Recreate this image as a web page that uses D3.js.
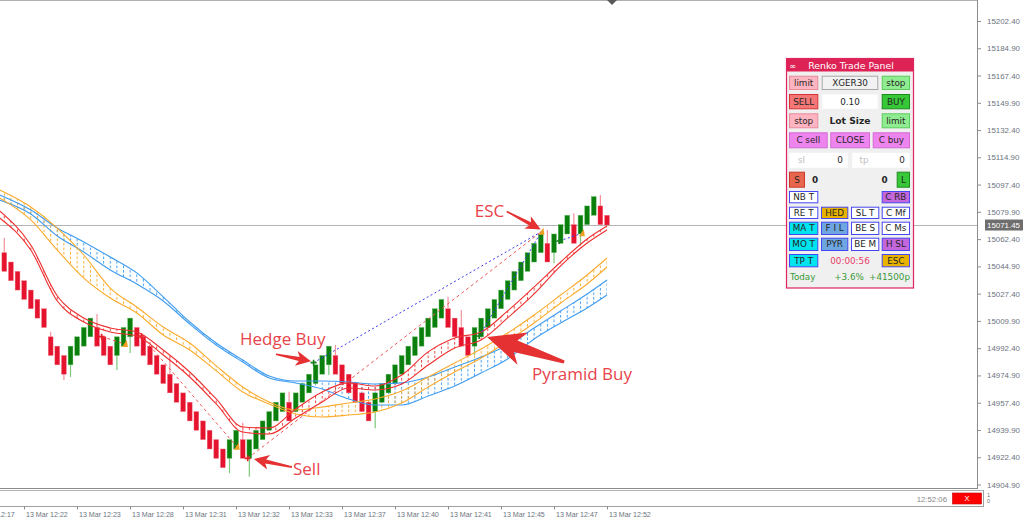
<!DOCTYPE html>
<html><head><meta charset="utf-8">
<script src="https://cdn.jsdelivr.net/npm/d3@7"></script>
<style>
html,body{margin:0;padding:0;background:#fff;overflow:hidden;}
svg{display:block;}
</style></head><body>
<svg id="chart" width="1024" height="523"></svg>
<script>
// ---------------- DATA ----------------
const tickBars = [-5, 3, 11, 19, 27, 35, 43, 51, 59, 67, 75, 83, 91];
const tickLabels = ["13 Mar 12:17","13 Mar 12:22","13 Mar 12:23","13 Mar 12:28","13 Mar 12:31","13 Mar 12:32","13 Mar 12:33","13 Mar 12:37","13 Mar 12:40","13 Mar 12:41","13 Mar 12:45","13 Mar 12:47","13 Mar 12:52"];
const priceTicks = [15202.40,15184.90,15167.40,15149.90,15132.40,15114.90,15097.40,15079.90,15062.40,15044.90,15027.40,15009.90,14992.40,14974.90,14957.40,14939.90,14922.40,14904.90];
const lastPrice = 15071.45;

const brickOpen = [15053.7,15047.7,15041.7,15035.7,15029.7,15023.7,15017.7,14999.7,14993.7,14987.7,
 14981.7,14987.7,14993.7,14999.7,15005.7,14999.7,14993.7,14987.7,14993.7,14999.7,
 15005.7,14999.7,14993.7,14987.7,14981.7,14975.7,14969.7,14963.7,14957.7,14951.7,
 14945.7,14939.7,14933.7,14927.7,14921.7,14927.7,14933.7,14921.7,14927.7,14933.7,
 14939.7,14945.7,14951.7,14957.7,14951.7,14957.7,14963.7,14969.7,14975.7,14981.7,
 14987.7,14981.7,14975.7,14969.7,14963.7,14957.7,14951.7,14957.7,14963.7,14969.7,
 14975.7,14981.7,14987.7,14993.7,14999.7,15005.7,15011.7,15017.7,15011.7,15005.7,
 14999.7,14993.7,14999.7,15005.7,15011.7,15017.7,15023.7,15029.7,15035.7,15041.7,
 15047.7,15053.7,15059.7,15053.7,15059.7,15065.7,15071.7,15065.7,15071.7,15077.7,
 15083.7,15077.7];
const brickClose = [15041.7,15035.7,15029.7,15023.7,15017.7,15011.7,15005.7,14987.7,14981.7,14975.7,
 14993.7,14999.7,15005.7,15011.7,14993.7,14987.7,14981.7,14999.7,15005.7,15011.7,
 14993.7,14987.7,14981.7,14975.7,14969.7,14963.7,14957.7,14951.7,14945.7,14939.7,
 14933.7,14927.7,14921.7,14915.7,14933.7,14939.7,14921.7,14933.7,14939.7,14945.7,
 14951.7,14957.7,14963.7,14945.7,14963.7,14969.7,14975.7,14981.7,14987.7,14993.7,
 14975.7,14969.7,14963.7,14957.7,14951.7,14945.7,14963.7,14969.7,14975.7,14981.7,
 14987.7,14993.7,14999.7,15005.7,15011.7,15017.7,15023.7,15005.7,14999.7,14993.7,
 14987.7,15005.7,15011.7,15017.7,15023.7,15029.7,15035.7,15041.7,15047.7,15053.7,
 15059.7,15065.7,15047.7,15065.7,15071.7,15077.7,15059.7,15077.7,15083.7,15089.7,
 15071.7,15071.45];
const wickBar   = [0, 7, 9, 10, 14, 17, 19, 25, 34, 36, 37, 43, 49, 50, 56, 67, 69, 71, 82, 83, 86, 87, 90];
const wickPrice = [15063.1,15003.0,14972.0,14973.9,15014.3,14978.4,14989.3,14986.9,14912.1,14944.6,14909.9,14964.5,14975.2,14994.4,14941.0,15025.4,15016.9,14988.0,15068.3,15046.9,15079.0,15058.6,15090.7];

// moving-average ribbons, sampled at these bar positions
const maIdx = [-0.7,4,8,12,16,20,24,28,32,36,40,44,48,52,56,60,64,68,72,76,80,84,88,91];
const blueA = [15090.7,15081.1,15069.5,15060.6,15050.9,15040.7,15025.3,15009.2,14995.7,14984.8,14974.5,14971.3,14971.3,14970.7,14969.4,14970.1,14973.9,14980.3,14986.7,14994.4,15005.4,15016.3,15027.2,15036.2];
const blueB = [15087.5,15078.5,15064.4,15054.1,15042.6,15033.6,15022.7,15007.9,14994.4,14983.5,14973.3,14970.1,14966.2,14959.8,14955.9,14955.9,14961.7,14968.1,14976.5,14985.5,14998.3,15008.6,15018.2,15026.5];
const orangeA = [15093.9,15083.0,15069.5,15052.2,15031.0,15018.8,15006.0,14995.7,14981.0,14967.5,14957.9,14952.7,14954.6,14957.2,14959.8,14964.9,14973.9,14982.9,14991.9,15002.1,15013.7,15026.5,15039.4,15050.3];
const orangeB = [15088.8,15074.7,15055.4,15037.4,15024.6,15015.0,15000.9,14991.2,14977.8,14964.3,14956.6,14950.2,14948.2,14949.5,14951.4,14957.2,14967.5,14977.1,14986.1,14997.0,15008.6,15021.4,15033.6,15044.5];
const redA = [15080.5,15058.6,15025.9,15011.8,15005.4,15002.8,14991.2,14977.1,14959.8,14941.8,14941.2,14953.4,14964.3,14970.1,14968.1,14975.2,14990.0,14998.9,15002.8,15016.3,15031.7,15047.7,15062.5,15070.8];
const redB = [15076.0,15055.4,15022.7,15009.2,15002.8,15000.2,14988.0,14973.9,14956.6,14938.6,14937.3,14947.6,14957.9,14966.8,14965.6,14969.4,14981.6,14992.5,14997.7,15011.8,15027.2,15045.2,15059.9,15068.3];

// trade markers
const markerBar   = [36.75, 35.1, 46.7, 71.7, 81.1, 83.8, 87.2, 14.7, 20.7, 18.2];
const markerPrice = [14921.7,14929.2,14983.1,15000.2,15067.2,15061.2,15066.1,14999.8,15000.2,14995.1];
const markerKind  = ["sell","close","buy","buy","close","buy","close","sell","sell","close"];
// trade lines
const tradeFromBar   = [36.75, 46.7, 71.7, 83.8, 20.7, 14.7];
const tradeFromPrice = [14921.7, 14983.1, 15000.2, 15061.2, 15000.2, 14999.8];
const tradeToBar     = [81.1, 81.1, 81.1, 87.2, 35.1, 18.2];
const tradeToPrice   = [15067.2, 15067.2, 15067.2, 15066.1, 14929.2, 14995.1];
const tradeSide      = ["sell","buy","buy","buy","sell","sell"];

// annotations (tip anchored on data)
const noteText  = ["ESC","Hedge Buy","Sell","Pyramid Buy"];
const noteBar   = [81, 46.3, 37.7, 72.9];
const notePrice = [15068.6, 14984.0, 14921.2, 14999.6];

// ---------------- SCALES ----------------
const svg = d3.select("#chart");
const W = 1024, H = 523, plotR = 977, plotB = 488;
const x = d3.scaleLinear().domain([0, 91]).range([4.3, 607]);
const y = d3.scaleLinear().domain([14904.9, 15202.4]).range([484.5, 21]);
const bw = x(1) - x(0);

const defs = svg.append("defs");
defs.append("clipPath").attr("id","plotClip").append("rect").attr("x",0).attr("y",0).attr("width",plotR).attr("height",plotB);
function hatch(id, color){
  const p = defs.append("pattern").attr("id",id).attr("patternUnits","userSpaceOnUse")
    .attr("x", x(0)-0.5).attr("y",0).attr("width", bw).attr("height", 4.5);
  p.append("rect").attr("x",0).attr("y",0).attr("width",1).attr("height",2.6).attr("fill",color);
}
hatch("hBlue","#3f9cf0"); hatch("hOrange","#fbab2e"); hatch("hRed","#ee3b3b");

svg.append("rect").attr("x",0).attr("y",0).attr("width",W).attr("height",H).attr("fill","#fff");
const plot = svg.append("g").attr("clip-path","url(#plotClip)");

// ---------------- RIBBONS (hatch) ----------------
const ribbons = [
  {a: blueA, b: blueB, color: "#3f9cf0", pat: "hBlue"},
  {a: orangeA, b: orangeB, color: "#fbab2e", pat: "hOrange"},
  {a: redA, b: redB, color: "#ee2e2e", pat: "hRed"}
];
const curve = d3.curveMonotoneX;
ribbons.forEach(r => {
  const rows = maIdx.map((i,k) => ({i, a: r.a[k], b: r.b[k]}));
  plot.append("path").datum(rows)
    .attr("d", d3.area().x(d=>x(d.i)).y0(d=>y(d.a)).y1(d=>y(d.b)).curve(curve))
    .attr("fill", `url(#${r.pat})`).attr("opacity",0.95);
});

// current price line
plot.append("line").attr("x1",0).attr("x2",plotR).attr("y1",Math.round(y(lastPrice))+0.5).attr("y2",Math.round(y(lastPrice))+0.5)
  .attr("stroke","#b4b4b4").attr("stroke-width",1);

// ---------------- BRICKS ----------------
const bricks = brickOpen.map((o,i)=>({i, o, c: brickClose[i]}));
const wicks = wickBar.map((b,k)=>({i:b, p: wickPrice[k], up: brickClose[b] < brickOpen[b]}));
plot.append("g").selectAll("line").data(wicks).join("line")
  .attr("x1",d=>x(d.i)).attr("x2",d=>x(d.i))
  .attr("y1",d=>y(d.p))
  .attr("y2",d=>{const hi=Math.max(brickOpen[d.i],brickClose[d.i]), lo=Math.min(brickOpen[d.i],brickClose[d.i]); return d.p>hi? y(hi): y(lo);})
  .attr("stroke",d=> d.up ? "#f4909c" : "#7cc87c").attr("stroke-width",1.2);
plot.append("g").selectAll("rect").data(bricks).join("rect")
  .attr("x",d=>x(d.i)-2.4).attr("width",4.8)
  .attr("y",d=>y(Math.max(d.o,d.c)))
  .attr("height",d=>Math.abs(y(d.o)-y(d.c)))
  .attr("fill",d=> d.c < d.o ? "#e5132e" : "#0b7f0e")
  .attr("stroke",d=> d.c < d.o ? "#f07080" : "#5cb85c").attr("stroke-width",0.4);

// ribbon lines on top
ribbons.forEach(r => {
  [r.a, r.b].forEach(arr => {
    plot.append("path").datum(maIdx.map((i,k)=>({i, v: arr[k]})))
      .attr("d", d3.line().x(d=>x(d.i)).y(d=>y(d.v)).curve(curve))
      .attr("fill","none").attr("stroke", r.color).attr("stroke-width",1.1);
  });
});

// ---------------- TRADES ----------------
tradeFromBar.forEach((fb,k)=>{
  plot.append("line")
    .attr("x1",x(fb)).attr("y1",y(tradeFromPrice[k]))
    .attr("x2",x(tradeToBar[k])).attr("y2",y(tradeToPrice[k]))
    .attr("stroke", tradeSide[k]==="buy" ? "#3a3af0" : "#f25454")
    .attr("stroke-width",1)
    .attr("stroke-dasharray", tradeSide[k]==="buy" ? "2,2.5" : "3,3");
});
markerBar.forEach((mb,k)=>{
  const cx = x(mb), cy = y(markerPrice[k]), kind = markerKind[k];
  if (kind === "close") {
    plot.append("path").attr("d",`M${cx-3},${cy+3}L${cx+3},${cy+3}L${cx+2},${cy-4}Z`).attr("fill","#f0a020");
  } else {
    const col = kind==="buy" ? "#16801a" : "#e8202a";
    plot.append("path").attr("d",`M${cx-3},${cy}H${cx+3}M${cx},${cy-3}V${cy+3}`).attr("stroke",col).attr("stroke-width",1.6);
  }
});

// ---------------- ANNOTATIONS ----------------
function arrowPath(tail, tip, headLen, headHalf, neckHalf, tailHalf){
  const dx=tip[0]-tail[0], dy=tip[1]-tail[1], L=Math.hypot(dx,dy);
  const ux=dx/L, uy=dy/L, nx=-uy, ny=ux;
  const bx=tip[0]-ux*headLen, by=tip[1]-uy*headLen;
  const wx=bx-ux*headLen*0.25, wy=by-uy*headLen*0.25;
  const pts=[[tail[0]+nx*tailHalf,tail[1]+ny*tailHalf],[bx+nx*neckHalf,by+ny*neckHalf],[wx+nx*headHalf,wy+ny*headHalf],tip,
    [wx-nx*headHalf,wy-ny*headHalf],[bx-nx*neckHalf,by-ny*neckHalf],[tail[0]-nx*tailHalf,tail[1]-ny*tailHalf]];
  return "M"+pts.map(p=>p[0].toFixed(1)+","+p[1].toFixed(1)).join("L")+"Z";
}
const noteStyle = [
  {tail:[-34,-18], text:[-66,-12], head:[12,7,1.8,0.8]},
  {tail:[-35,-7],  text:[-71,-16], head:[12,7.5,2,0.8]},
  {tail:[38,8],    text:[39,16],   head:[12,7.5,2,0.8]},
  {tail:[77,25],   text:[45,43],   head:[30,17,6,1.5]}
];
const ann = svg.append("g");
noteText.forEach((t,k)=>{
  const tip=[x(noteBar[k]), y(notePrice[k])], s=noteStyle[k];
  const tail=[tip[0]+s.tail[0], tip[1]+s.tail[1]];
  ann.append("path").attr("d",arrowPath(tail,tip,...s.head)).attr("fill","#e53131");
  ann.append("text").attr("x",tip[0]+s.text[0]).attr("y",tip[1]+s.text[1])
    .attr("font-family","'Open Sans', sans-serif").attr("font-size",17).attr("fill","#e8434b").text(t);
});

// ---------------- AXES ----------------
const axisFont = "'Liberation Sans', Arial, sans-serif";
svg.append("line").attr("x1",plotR+0.5).attr("x2",plotR+0.5).attr("y1",0).attr("y2",plotB).attr("stroke","#8c8c8c");
const yAxis = svg.append("g").attr("transform",`translate(${plotR},0)`)
  .call(d3.axisRight(y).tickValues(priceTicks).tickSize(4).tickPadding(6).tickFormat(d3.format(".2f")));
yAxis.select(".domain").remove();
yAxis.selectAll("line").attr("stroke","#8c8c8c");
yAxis.selectAll("text").attr("font-family",axisFont).attr("font-size",7.9).attr("fill","#6c7480");
const ly = y(lastPrice);
svg.append("rect").attr("x",985).attr("y",ly-5.5).attr("width",38).attr("height",11).attr("fill","#6e6e6e");
svg.append("text").attr("x",987).attr("y",ly+2.8).attr("font-family",axisFont).attr("font-size",7.9).attr("fill","#fff").text(d3.format(".2f")(lastPrice));

svg.append("line").attr("x1",0).attr("x2",plotR).attr("y1",0.5).attr("y2",0.5).attr("stroke","#b0b0b0");
svg.append("path").attr("d","M607,0L617,0L612,5Z").attr("fill","#5a5a5a");

svg.append("line").attr("x1",0).attr("x2",plotR+1).attr("y1",488.5).attr("y2",488.5).attr("stroke","#8a8a8a");
svg.append("line").attr("x1",0).attr("x2",984).attr("y1",490.5).attr("y2",490.5).attr("stroke","#b0b0b0");
svg.append("line").attr("x1",0).attr("x2",984).attr("y1",506.5).attr("y2",506.5).attr("stroke","#a0a0a0");
svg.append("line").attr("x1",983.5).attr("x2",983.5).attr("y1",490).attr("y2",507).attr("stroke","#a0a0a0");
svg.append("text").attr("x",947).attr("y",501.5).attr("text-anchor","end").attr("font-family",axisFont).attr("font-size",7.8).attr("fill","#8a8a8a").text("12:52:06");
svg.append("rect").attr("x",952.5).attr("y",493).attr("width",29).attr("height",11).attr("fill","#ff0000").attr("stroke","#c00000").attr("stroke-width",0.6);
svg.append("text").attr("x",967).attr("y",501.3).attr("text-anchor","middle").attr("font-family",axisFont).attr("font-size",7.5).attr("fill","#fff").text("X");
svg.append("text").attr("x",987).attr("y",496.5).attr("font-family",axisFont).attr("font-size",5.5).attr("fill","#707070").text("1");
svg.append("text").attr("x",987).attr("y",503).attr("font-family",axisFont).attr("font-size",5.5).attr("fill","#707070").text("0");

const tg = svg.append("g");
tickBars.forEach((b,k)=>{
  const tx = Math.round(x(b))+0.5;
  tg.append("line").attr("x1",tx).attr("x2",tx).attr("y1",506.5).attr("y2",509.5).attr("stroke","#8c8c8c");
  tg.append("text").attr("x",tx+1.5).attr("y",517).attr("font-family",axisFont).attr("font-size",7.1).attr("fill","#6c7480").text(tickLabels[k]);
});

// ---------------- TRADE PANEL ----------------
const pf = "'DejaVu Sans', Verdana, sans-serif";
const P = svg.append("g");
P.append("rect").attr("x",786.5).attr("y",58.5).attr("width",127).attr("height",229.5).attr("fill","#f0f0f0").attr("stroke","#e0245e").attr("stroke-width",1.2);
P.append("rect").attr("x",787).attr("y",59).attr("width",126).attr("height",12.5).attr("fill","#dd2255");
P.append("text").attr("x",851).attr("y",68.8).attr("text-anchor","middle").attr("font-family",pf).attr("font-size",9.4).attr("fill","#fff").text("Renko Trade Panel");
P.append("text").attr("x",792.5).attr("y",68.5).attr("text-anchor","middle").attr("font-family",pf).attr("font-size",8).attr("fill","#fff").text("∞");

const cA=[789,818.3], cB=[821.7,878.3], cC=[881.7,910];
const q1=[789,818.3], q2=[821,848.3], q3=[851,879.3], q4=[881.7,910];
const t1=[789,827.7], t2=[830.3,870], t3=[872.7,910];
const R=[[75.7,90],[94,109.3],[113.3,128.3],[132.3,148.3],[152.3,168.3],[171.7,187.7],[191,203.3],[206.7,219],[221.7,235],[237.7,251],[254,267.3]];
const pink={f:"#ffb4c1",s:"#e88c9c"}, lgreen={f:"#90ec90",s:"#5ccc5c"}, gray={f:"#f2f2f2",s:"#a8a8a8"},
  sellC={f:"#f47676",s:"#d63434"}, buyC={f:"#36c836",s:"#1c8c1c"}, violet={f:"#ee84ee",s:"#d46ad4"},
  whiteB={f:"#ffffff",s:"#4646f2"}, orchid={f:"#c466dc",s:"#4646f2"}, gold={f:"#e8b300",s:"#4646f2"},
  cyan={f:"#00e4ee",s:"#4646f2"}, steel={f:"#6ea6e2",s:"#4646f2"}, field={f:"#ffffff",s:"none"};
const btns = [
  [cA,0,"limit",pink],[cB,0,"XGER30",gray],[cC,0,"stop",lgreen],
  [cA,1,"SELL",sellC],[cB,1,"0.10",field],[cC,1,"BUY",buyC],
  [cA,2,"stop",pink],[cC,2,"limit",lgreen],
  [t1,3,"C sell",violet],[t2,3,"CLOSE",violet],[t3,3,"C buy",violet],
  [[789,848.3],4,"",field],[[851.7,910],4,"",field],
  [[789,805],5,"S",{f:"#e8664e",s:"#c83a2a"}],[[896.7,910],5,"L",buyC],
  [q1,6,"NB T",whiteB],[q4,6,"C RB",orchid],
  [q1,7,"RE T",whiteB],[q2,7,"HED",gold],[q3,7,"SL T",whiteB],[q4,7,"C Mf",whiteB],
  [q1,8,"MA T",cyan],[q2,8,"F I L",steel],[q3,8,"BE S",whiteB],[q4,8,"C Ms",whiteB],
  [q1,9,"MO T",cyan],[q2,9,"PYR",steel],[q3,9,"BE M",whiteB],[q4,9,"H SL",orchid],
  [q1,10,"TP T",cyan],[q4,10,"ESC",gold]
];
btns.forEach(([c,r,t,st])=>{
  const [y0,y1]=R[r];
  P.append("rect").attr("x",c[0]+0.5).attr("y",y0+0.5).attr("width",c[1]-c[0]-1).attr("height",y1-y0-1)
    .attr("fill",st.f).attr("stroke",st.s).attr("stroke-width",st.s==="none"?0:1);
  if(t) P.append("text").attr("x",(c[0]+c[1])/2).attr("y",(y0+y1)/2+3.1).attr("text-anchor","middle")
    .attr("font-family",pf).attr("font-size",8.8).attr("fill","#262626").text(t);
});
function ptext(xp,yp,t,opt={}){
  P.append("text").attr("x",xp).attr("y",yp).attr("text-anchor",opt.anchor||"middle")
   .attr("font-family",pf).attr("font-size",opt.size||8.8).attr("font-weight",opt.bold?"bold":"normal")
   .attr("fill",opt.fill||"#262626").text(t);
}
ptext(850,124,"Lot Size",{bold:true,size:9.2});
ptext(801.5,163.3,"sl",{fill:"#c0c0c0"});
ptext(840,163.3,"0");
ptext(864,163.3,"tp",{fill:"#c0c0c0"});
ptext(902,163.3,"0");
ptext(815,182.7,"0",{bold:true});
ptext(884.5,182.7,"0",{bold:true});
ptext(850,263.6,"00:00:56",{fill:"#e8406a"});
ptext(790,280,"Today",{anchor:"start",fill:"#3a9a3a"});
ptext(849,280,"+3.6%",{fill:"#3a9a3a"});
ptext(910,280,"+41500p",{anchor:"end",fill:"#3a9a3a"});
</script>
</body></html>
